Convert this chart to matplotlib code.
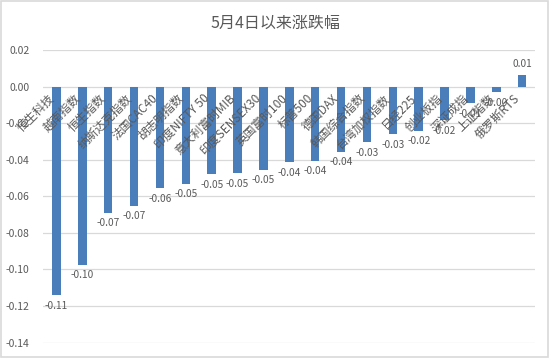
import matplotlib
matplotlib.use('Agg')
import matplotlib.pyplot as plt
from matplotlib.patches import Rectangle
from matplotlib.transforms import offset_copy

plt.rcParams['font.family'] = ['Noto Sans CJK SC', 'DejaVu Sans']

# 各指数 5月4日以来涨跌幅
indices = ['恒生科技', '越南指数', '恒生指数', '纳斯达克指数', '法国CAC40', '胡志明指数',
           '印度NIFTY 50', '意大利富时MIB', '印度SENSEX30', '英国富时100', '标普500',
           '德国DAX', '韩国综合指数', '台湾加权指数', '日经225', '创业板指', '深证成指',
           '上证指数', '俄罗斯RTS']
changes = [-0.114, -0.0975, -0.069, -0.065, -0.0555, -0.053,
           -0.0478, -0.0473, -0.0455, -0.0413, -0.0405,
           -0.0355, -0.0305, -0.0259, -0.024, -0.0182, -0.009,
           -0.003, 0.0066]
yticks = [0.02, 0.00, -0.02, -0.04, -0.06, -0.08, -0.10, -0.12, -0.14]

text_color = '#595959'
bar_color = '#4A7EBB'

fig = plt.figure(figsize=(5.5, 3.58), dpi=100)
ax = fig.add_axes([0.079, 0.043, 0.894, 0.817])

x = list(range(len(indices)))
ax.bar(x, changes, width=0.33, color=bar_color, zorder=3)

ax.set_xlim(-0.5, len(indices) - 0.5)
ax.set_ylim(-0.14, 0.02)
ax.set_yticks(yticks)
ax.set_yticklabels([f'{v:.2f}' for v in yticks], fontsize=7.5, color=text_color)
ax.tick_params(axis='y', length=0, pad=10)
ax.set_xticks([])
ax.grid(axis='y', color='#D9D9D9', linewidth=0.9, zorder=0)
for s in ax.spines.values():
    s.set_visible(False)

# 数据标签
for i, v in enumerate(changes):
    if v < 0:
        tr = offset_copy(ax.transData, fig=fig, x=0, y=-4, units='points')
        ax.text(i, v, f'{v:.2f}', ha='center', va='top', fontsize=7.3,
                color=text_color, transform=tr, zorder=4)
    else:
        tr = offset_copy(ax.transData, fig=fig, x=0, y=4, units='points')
        ax.text(i, v, f'{v:.2f}', ha='center', va='bottom', fontsize=7.3,
                color=text_color, transform=tr, zorder=4)

# 分类标签 (45度, 贴近零轴)
for i, name in enumerate(indices):
    tr = offset_copy(ax.transData, fig=fig, x=-3, y=-7, units='points')
    ax.text(i, 0, name, ha='right', va='center', rotation=45, rotation_mode='anchor',
            fontsize=8.5, color=text_color, transform=tr, zorder=4)

fig.text(0.5, 0.934, '5月4日以来涨跌幅', ha='center', va='center', fontsize=11.5,
         color=text_color)

# 图表外框
fig.patches.append(Rectangle((0.002, 0.003), 0.994, 0.994, transform=fig.transFigure,
                             fill=False, edgecolor='#D9D9D9', linewidth=1.2))

fig.savefig('out.png', dpi=100)
